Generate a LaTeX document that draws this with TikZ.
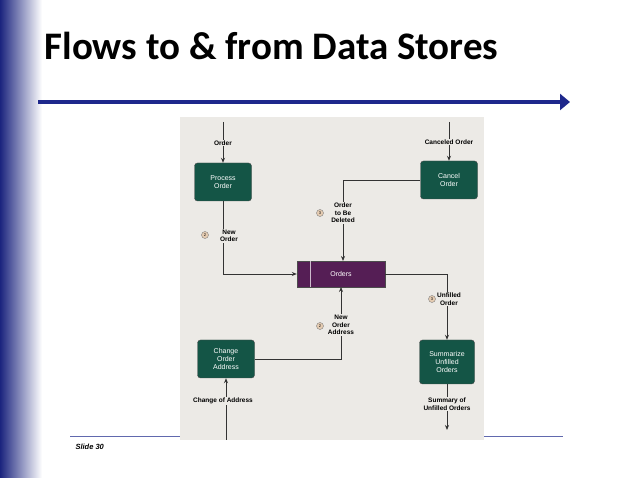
\documentclass[tikz,border=0pt]{standalone}
\usepackage{fontspec}
\setmainfont{Liberation Sans}
\newfontfamily\titlefont{Carlito}
\usetikzlibrary{arrows.meta}
\definecolor{boxg}{RGB}{20,85,70}
\definecolor{store}{RGB}{85,30,85}
\definecolor{navy}{RGB}{30,40,140}
\definecolor{paper}{RGB}{236,234,230}
\begin{document}
\begin{tikzpicture}[x=1pt,y=-1pt,
  proc/.style={draw=black!70,fill=boxg,rounded corners=3pt,text=white,font=\fontsize{7}{8}\selectfont,align=center,minimum width=57pt,minimum height=38pt,inner sep=1pt},
  lab/.style={font=\bfseries\fontsize{6.5}{7.5}\selectfont,align=center,fill=paper,inner sep=1pt},
  flow/.style={draw=black!80,line width=0.8pt,-{Stealth[length=5pt,width=4pt]}},
  num/.style={circle,draw=black!50,fill=brown!40,inner sep=0pt,minimum size=7pt,font=\fontsize{4}{4}\selectfont}]
\useasboundingbox (0,0) rectangle (638,478);
\fill[white] (0,0) rectangle (638,478);
\shade[left color=navy!90!black,right color=white] (0,0) rectangle (42,478);
\node[anchor=west,font=\titlefont\bfseries\fontsize{39}{41}\selectfont] (title) at (41,46) {Flows to \& from Data Stores};
\coordinate (a1) at (38,102); \coordinate (a2) at (570,102);
\draw[navy,line width=4pt,-{Triangle[length=10pt,width=16pt]}] (a1) -- (a2);
\draw[navy!70,line width=0.6pt] (70,436) -- (563,436);
\node[anchor=west,font=\bfseries\itshape\fontsize{7.5}{8}\selectfont] (slide) at (72,447) {Slide 30};
\fill[paper] (180,117) rectangle (484,440);
% nodes
\node[proc] (po) at (223,182) {Process\\Order};
\node[proc] (co) at (449,180) {Cancel\\Order};
\node[proc] (ca) at (226,359) {Change\\Order\\Address};
\node[proc,minimum height=44pt,minimum width=55pt] (su) at (447,362) {Summarize\\Unfilled\\Orders};
\node[draw=black!70,fill=store,text=white,minimum width=88pt,minimum height=26pt,font=\fontsize{7}{8}\selectfont] (or) at (341,274) {Orders};
\draw[white!70!store] (310,261) -- (310,287);
\coordinate (t1) at (223,122); \coordinate (t2) at (449,122);
\coordinate (b1) at (226,440); \coordinate (b2) at (447,430);
% flows
\draw[flow] (t1) -- (po.north);
\draw[flow] (t2) -- (co.north);
\draw[flow] (po.south) |- (or.west);
\draw[flow] (co.west) -| (343,261);
\draw[flow] (or.east) -| (su.north);
\draw[flow] (ca.east) -| (341,287);
\draw[flow] (b1) -- (ca.south);
\draw[flow] (su.south) -- (b2);
% labels
\node[lab] (l1) at (223,143) {Order};
\node[lab] (l2) at (449,142) {Canceled Order};
\node[lab] (l3) at (229,236) {New\\Order};
\node[lab] (l4) at (343,213) {Order\\to Be\\Deleted};
\node[lab] (l5) at (449,299) {Unfilled\\Order};
\node[lab] (l6) at (341,325) {New\\Order\\Address};
\node[lab] (l7) at (223,401) {Change of Address};
\node[lab] (l8) at (447,404) {Summary of\\Unfilled Orders};
\node[num] (n1) at (320,213) {3};
\node[num] (n2) at (205,235) {2};
\node[num] (n3) at (432,299) {3};
\node[num] (n4) at (320,326) {2};
\end{tikzpicture}
\end{document}
